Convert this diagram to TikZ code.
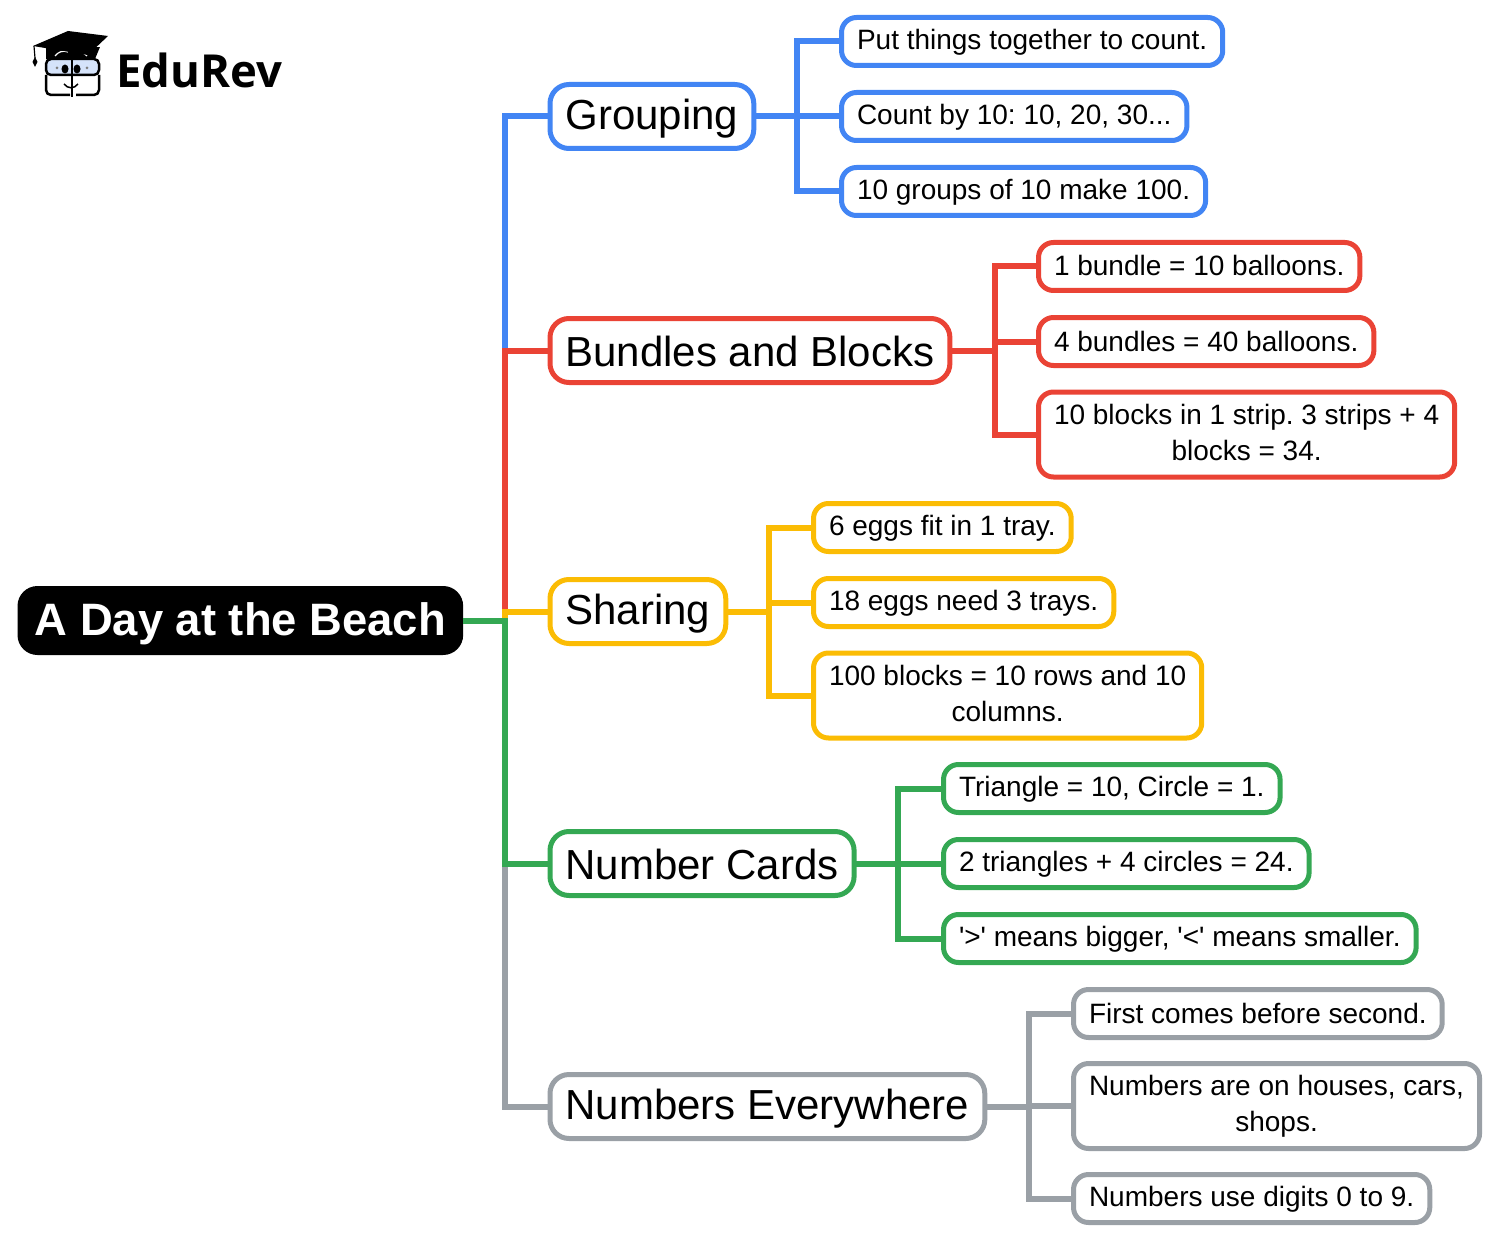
\documentclass[tikz,border=0pt]{standalone}
\usepackage{fontspec}
\setmainfont{Liberation Sans}
\newfontfamily\logofont{Open Sans}
\usetikzlibrary{positioning}
\definecolor{mapblue}{HTML}{4285F4}
\definecolor{mapred}{HTML}{EA4335}
\definecolor{mapyellow}{HTML}{FBBC04}
\definecolor{mapgreen}{HTML}{34A853}
\definecolor{mapgray}{HTML}{9AA0A6}
\definecolor{glasses}{HTML}{D5E3FA}

\begin{document}
\begin{tikzpicture}
    [
        x=1pt, y=-1pt, node distance=75pt, on grid,
        root_node/.style={fill=black, text=white, rounded corners=20pt, anchor=west, outer sep=0pt, minimum height=69pt, inner xsep=17.2pt, inner ysep=0pt, font=\fontsize{45.4}{50}\selectfont\bfseries, execute at begin node=\rule[-4.5pt]{0pt}{44pt}},
        topic_node/.style={draw=#1, fill=white, line width=5pt, rounded corners=19pt, anchor=west, outer sep=0pt, minimum height=64pt, inner xsep=15.5pt, inner ysep=0pt, font=\fontsize{42}{50}\selectfont, execute at begin node=\rule[-3.5pt]{0pt}{38pt}},
        leaf_node/.style={draw=#1, fill=white, line width=5pt, rounded corners=15pt, anchor=west, outer sep=0pt, minimum height=48pt, inner xsep=15.5pt, inner ysep=0pt, align=center, font=\fontsize{28}{36}\selectfont\frenchspacing, execute at begin node=\rule[-3.5pt]{0pt}{26pt}, execute at end node=\rule[-3.5pt]{0pt}{26pt}},
        tall/.style={minimum height=85pt},
        link/.style={line width=6pt, color=#1},
    ]
        \useasboundingbox (0,0) rectangle (1496,1241);

        % logo
        \fill (46,48) -- (46,59) -- (95,59) -- (100,47) -- cycle;
        \draw[white, line width=1.2pt] (55,56) .. controls (58,52) and (63,50) .. (68,52);
        \draw[white, line width=1.2pt] (76,52) .. controls (80,51) and (84,53) .. (87,56);
        \fill (33,46) -- (68,31) -- (108,36) -- (88,55) -- cycle;
        \draw[line width=1.2pt] (34,46) -- (35,58);
        \fill (35,57) -- (37.5,62) -- (35,67) -- (32.5,62) -- cycle;
        \draw[line width=2.5pt, fill=glasses, rounded corners=5pt] (46,59) rectangle (99,75);
        \draw[line width=2.5pt, rounded corners=5pt] (46,75) -- (46,95) -- (70,95) (99,75) -- (99,95) -- (76,95);
        \draw[line width=2pt] (72,57) -- (72,97);
        \fill (65,69) ellipse (3.5pt and 4.5pt);
        \fill (77,69) ellipse (3.5pt and 4.5pt);
        \fill[gray] (57,68) circle (1.5pt);
        \fill[gray] (87,68) circle (1.5pt);
        \draw[line width=1.5pt] (64,84) .. controls (68,89) and (74,89) .. (78,84);
        \node[anchor=west, inner sep=0pt, font=\fontsize{45.5}{50}\selectfont\logofont\bfseries] (logo) at (116,70) {EduRev};

        % root and topics
        \node[root_node] (root) at (17.5,620.5) {A Day at the Beach};
        \coordinate (trunk) at (505,620.5);
        \node[topic_node=mapblue] (grouping) at (550,116.5) {Grouping};
        \node[topic_node=mapred] (bundles) at (550,350.5) {Bundles and Blocks};
        \node[topic_node=mapyellow] (sharing) at (550,611.5) {Sharing};
        \node[topic_node=mapgreen] (cards) at (550,863.5) {Number Cards};
        \node[topic_node=mapgray] (everywhere) at (550,1106.5) {Numbers Everywhere};

        % leaves
        \node[leaf_node=mapblue] (g1) at (841.5,41.5) {Put things together to count.};
        \node[leaf_node=mapblue, below=of g1.west, anchor=west] (g2) {Count by 10: 10, 20, 30...};
        \node[leaf_node=mapblue, below=of g2.west, anchor=west] (g3) {10 groups of 10 make 100.};

        \node[leaf_node=mapred] (b1) at (1038.5,266.5) {1 bundle = 10 balloons.};
        \node[leaf_node=mapred, below=of b1.west, anchor=west] (b2) {4 bundles = 40 balloons.};
        \node[leaf_node=mapred, tall, below=93pt of b2.west, anchor=west] (b3) {10 blocks in 1 strip. 3 strips + 4\\blocks = 34.};

        \node[leaf_node=mapyellow] (s1) at (813.5,527.5) {6 eggs fit in 1 tray.};
        \node[leaf_node=mapyellow, below=of s1.west, anchor=west] (s2) {18 eggs need 3 trays.};
        \node[leaf_node=mapyellow, tall, below=93pt of s2.west, anchor=west] (s3) {100 blocks = 10 rows and 10\\columns.};

        \node[leaf_node=mapgreen] (c1) at (943.5,788.5) {Triangle = 10, Circle = 1.};
        \node[leaf_node=mapgreen, below=of c1.west, anchor=west] (c2) {2 triangles + 4 circles = 24.};
        \node[leaf_node=mapgreen, below=of c2.west, anchor=west] (c3) {\textquotesingle>\textquotesingle{} means bigger, \textquotesingle<\textquotesingle{} means smaller.};

        \node[leaf_node=mapgray] (e1) at (1073.5,1013.5) {First comes before second.};
        \node[leaf_node=mapgray, tall, below=92.5pt of e1.west, anchor=west] (e2) {Numbers are on houses, cars,\\shops.};
        \node[leaf_node=mapgray, below=92.5pt of e2.west, anchor=west] (e3) {Numbers use digits 0 to 9.};

        % bus points
        \coordinate (g_bus) at (797,116.5);
        \coordinate (b_bus) at (995,350.5);
        \coordinate (s_bus) at (769,611.5);
        \coordinate (c_bus) at (898,863.5);
        \coordinate (e_bus) at (1029,1106.5);

        % links from the root, last one on top
        \draw[link=mapblue] (root.east) -- (trunk) |- (grouping.west);
        \draw[link=mapred] (root.east) -- (trunk) |- (bundles.west);
        \draw[link=mapyellow] (root.east) -- (trunk) |- (sharing.west);
        \draw[link=mapgray] (root.east) -- (trunk) |- (everywhere.west);
        \draw[link=mapgreen] (root.east) -- (trunk) |- (cards.west);

        % links to the leaves
        \draw[link=mapblue] (grouping.east) -- (g_bus) |- (g1.west);
        \draw[link=mapblue] (grouping.east) -- (g_bus) |- (g2.west);
        \draw[link=mapblue] (grouping.east) -- (g_bus) |- (g3.west);
        \draw[link=mapred] (bundles.east) -- (b_bus) |- (b1.west);
        \draw[link=mapred] (bundles.east) -- (b_bus) |- (b2.west);
        \draw[link=mapred] (bundles.east) -- (b_bus) |- (b3.west);
        \draw[link=mapyellow] (sharing.east) -- (s_bus) |- (s1.west);
        \draw[link=mapyellow] (sharing.east) -- (s_bus) |- (s2.west);
        \draw[link=mapyellow] (sharing.east) -- (s_bus) |- (s3.west);
        \draw[link=mapgreen] (cards.east) -- (c_bus) |- (c1.west);
        \draw[link=mapgreen] (cards.east) -- (c_bus) |- (c2.west);
        \draw[link=mapgreen] (cards.east) -- (c_bus) |- (c3.west);
        \draw[link=mapgray] (everywhere.east) -- (e_bus) |- (e1.west);
        \draw[link=mapgray] (everywhere.east) -- (e_bus) |- (e2.west);
        \draw[link=mapgray] (everywhere.east) -- (e_bus) |- (e3.west);
\end{tikzpicture}
\end{document}
